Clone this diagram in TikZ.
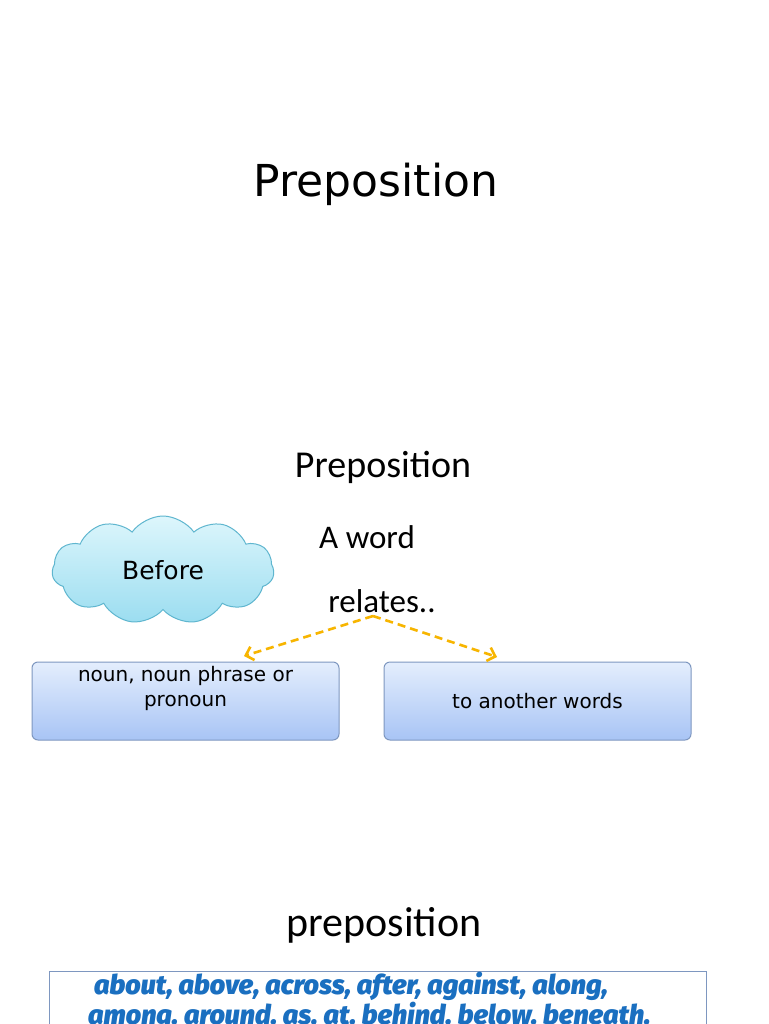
\documentclass[tikz,border=0pt]{standalone}
\usepackage{fontspec}
\setmainfont{Carlito}
\newfontfamily\comicf{DejaVu Sans}
\newfontfamily\listf{Fira Sans}[UprightFont=* Black Italic, BoldFont=* Black Italic]
\usetikzlibrary{shapes.symbols,arrows.meta}
\definecolor{boxedge}{HTML}{7E97C0}
\definecolor{boxtop}{HTML}{E4EEFD}
\definecolor{boxbot}{HTML}{A8C4F5}
\definecolor{cloudtop}{HTML}{DDF6FC}
\definecolor{cloudbot}{HTML}{9BDDF0}
\definecolor{cloudedge}{HTML}{5FB6CF}
\definecolor{arrowc}{HTML}{F7B500}
\definecolor{listc}{HTML}{1A6FC0}
\tikzset{
 infobox/.style={draw=boxedge, line width=1pt, rounded corners=6pt, top color=boxtop, bottom color=boxbot, minimum width=307pt, minimum height=78pt},
 boxtext/.style={align=center, font=\comicf\fontsize{20}{25}\selectfont, text=black},
 relarrow/.style={draw=arrowc, line width=2.6pt, dash pattern=on 8pt off 5pt, -{Straight Barb[length=7pt,width=14pt]}}
}
\begin{document}
\begin{tikzpicture}[x=1pt,y=-1pt]
\useasboundingbox (0,0) rectangle (768,1024);
\clip (0,0) rectangle (768,1024);
\fill[white] (0,0) rectangle (768,1024);
\node[font=\comicf\fontsize{44}{50}\selectfont] (title) at (376,184) {Preposition};
\node[font=\fontsize{38}{44}\selectfont] (head) at (383,467) {Preposition};
\node[font=\fontsize{33}{38}\selectfont] (word) at (367,537) {A word};
\node[font=\fontsize{33}{38}\selectfont] (rel) at (382,601) {relates..};
\node[cloud, cloud puffs=11, cloud puff arc=110, aspect=2, draw=cloudedge, line width=1pt, top color=cloudtop, bottom color=cloudbot, minimum width=222pt, minimum height=108pt, inner sep=0pt] (cloud) at (163,570) {};
\node[font=\comicf\fontsize{25}{30}\selectfont] (cloudtext) at (cloud) {Before};
\node[infobox] (left) at (185.5,701) {};
\node[boxtext] (lefttext) at (185.5,688) {noun, noun phrase or\\pronoun};
\node[infobox] (right) at (537.5,701) {};
\node[boxtext] (righttext) at (right) {to another words};
\coordinate (fork) at (373,616);
\draw[relarrow] (fork) -- (244,656);
\draw[relarrow] (fork) -- (497,657);
\node[font=\fontsize{42}{48}\selectfont] (sub) at (384,925) {preposition};
\node[draw=boxedge, line width=1.4pt, minimum width=657pt, minimum height=120pt, anchor=north west] (list) at (49,971) {};
\node[anchor=north west, align=left, text=listc, inner sep=0pt, font=\listf\fontsize{27}{25}\selectfont] (words) at (88,972) {\hspace*{6pt}about, above, across, after, against, along,\\among, around, as, at, behind, below, beneath,};
\end{tikzpicture}
\end{document}
